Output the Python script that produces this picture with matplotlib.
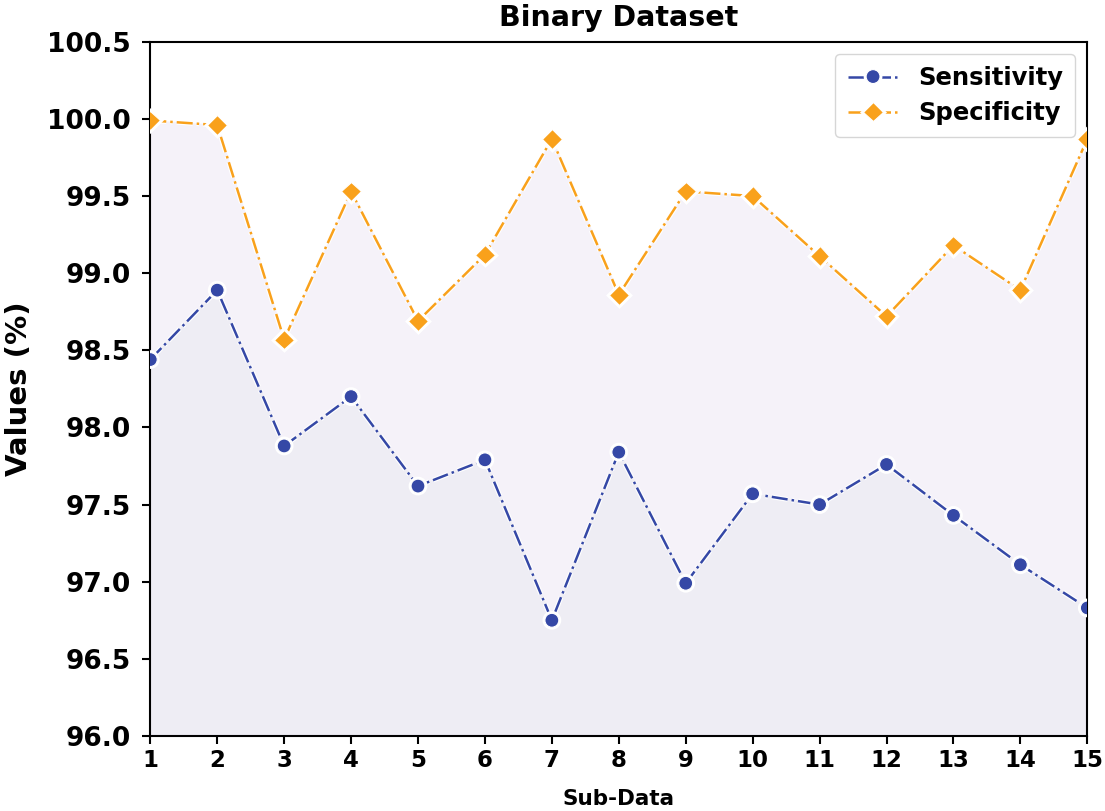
import numpy as np
import matplotlib.pyplot as plt
import matplotlib.patheffects as pe

# Sub-data index and measured values (%)
sub_data = np.arange(1, 16)
sensitivity = [98.44, 98.89, 97.88, 98.20, 97.62, 97.79, 96.75, 97.84,
               96.99, 97.57, 97.50, 97.76, 97.43, 97.11, 96.83]
specificity = [99.99, 99.96, 98.57, 99.53, 98.69, 99.12, 99.87, 98.86,
               99.53, 99.50, 99.11, 98.72, 99.18, 98.89, 99.87]
y_ticks = np.arange(96.0, 100.51, 0.5)

blue = '#3548a6'
orange = '#f9a11b'

fig = plt.figure(figsize=(11.05, 8.11), dpi=100)
ax = fig.add_axes([0.136, 0.0925, 0.848, 0.856])

# shaded areas under each curve
ax.fill_between(sub_data, specificity, 96.0, color='#f5f2f9', zorder=1)
ax.fill_between(sub_data, sensitivity, 96.0, color='#eeedf4', zorder=1)

halo = [pe.Stroke(linewidth=3.5, foreground='white'), pe.Normal()]
ax.plot(sub_data, sensitivity, linestyle='-.', color=blue, linewidth=1.8,
        marker='o', markersize=10, markeredgecolor='white', markeredgewidth=0.8,
        label='Sensitivity', zorder=3, path_effects=halo)
ax.plot(sub_data, specificity, linestyle='-.', color=orange, linewidth=1.8,
        marker='D', markersize=10, markeredgecolor='white', markeredgewidth=0.8,
        label='Specificity', zorder=3, path_effects=halo)

ax.set_xlim(1, 15)
ax.set_ylim(96.0, 100.5)
ax.set_xticks(sub_data)
ax.set_yticks(y_ticks)
ax.set_yticklabels([f'{v:.1f}' for v in y_ticks])
ax.tick_params(axis='x', labelsize=16.5, width=1.5, length=6)
ax.tick_params(axis='y', labelsize=19, width=1.5, length=6, pad=8)
for lbl in ax.get_xticklabels() + ax.get_yticklabels():
    lbl.set_fontweight('bold')
for s in ax.spines.values():
    s.set_linewidth(1.5)

ax.set_title('Binary Dataset', fontsize=20.5, fontweight='bold', pad=11)
ax.set_xlabel('Sub-Data', fontsize=15.5, fontweight='bold', labelpad=12)
ax.set_ylabel('Values (%)', fontsize=21, fontweight='bold', labelpad=10)

leg = ax.legend(loc='upper right', prop={'weight': 'bold', 'size': 17.5},
                handlelength=2.1, handletextpad=0.8, borderpad=0.5,
                labelspacing=0.45)

fig.savefig('out.png', dpi=100)
